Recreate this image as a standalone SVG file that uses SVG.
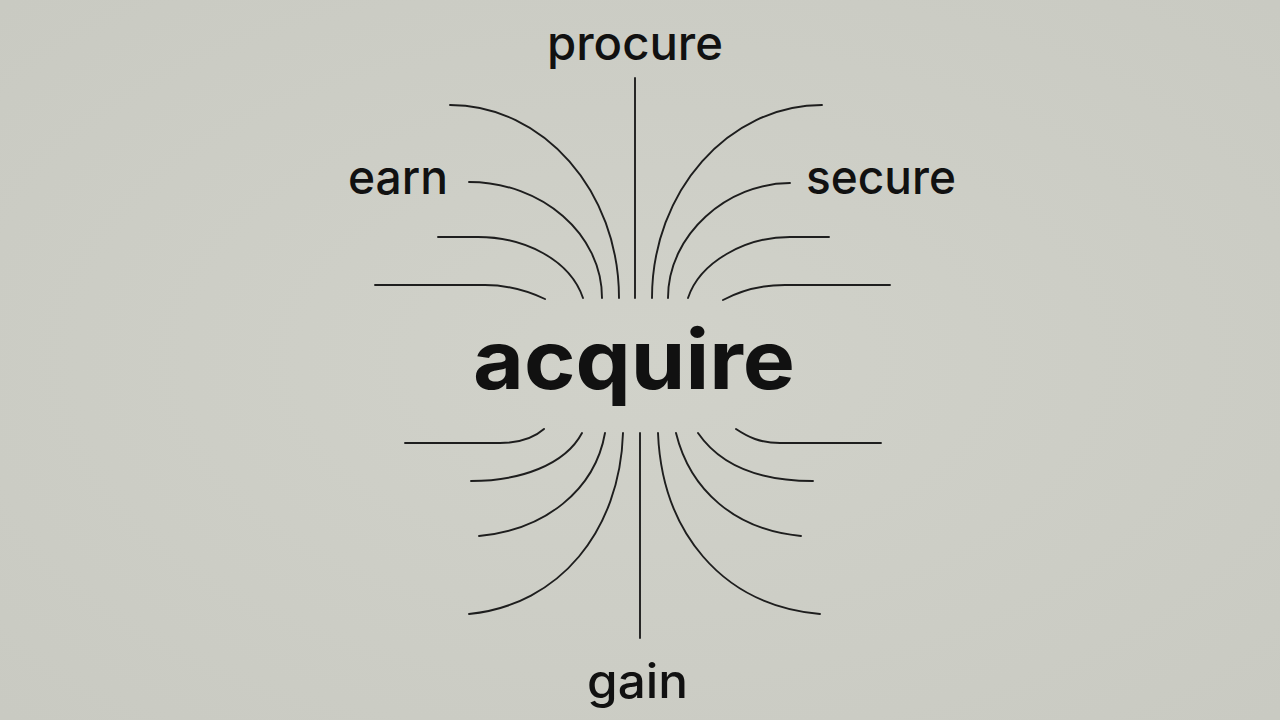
<svg xmlns="http://www.w3.org/2000/svg" width="1280" height="720" viewBox="0 0 1280 720">
<defs>
<radialGradient id="bg" cx="50%" cy="50%" r="70%">
<stop offset="0" stop-color="#d1d2ca"/>
<stop offset="1" stop-color="#c9cac2"/>
</radialGradient>
<style>
.ln{fill:none;stroke:#1e1e1e;stroke-width:1.9;stroke-linecap:round}
.lb{font-family:Inter,"Open Sans","Liberation Sans",sans-serif;font-size:47px;font-weight:500;fill:#111}
.hub{font-family:Inter,"Open Sans","Liberation Sans",sans-serif;font-size:82px;font-weight:700;fill:#111}
</style>
</defs>
<rect width="1280" height="720" fill="url(#bg)"/>
<g id="connectors">
<path class="ln" d="M635,78 L635,298"/>
<path class="ln" d="M450,105 C543,105 619,191 619,298"/>
<path class="ln" d="M469,182 C542,182 602,234 602,298"/>
<path class="ln" d="M438,237 L478,237 C525,237 570,260 583,298"/>
<path class="ln" d="M375,285 L485,285 C510,285 530,292 545,299"/>
<path class="ln" d="M652,298 C652,191 729,105 822,105"/>
<path class="ln" d="M668,298 C668,234 728,183 790,183"/>
<path class="ln" d="M688,298 C700,262 745,237 790,237 L829,237"/>
<path class="ln" d="M723,300 C738,292 758,285 785,285 L890,285"/>
<path class="ln" d="M640,433 L640,638"/>
<path class="ln" d="M405,443 L500,443 C520,443 535,437 544,429"/>
<path class="ln" d="M471,481 C520,481 565,465 582,433"/>
<path class="ln" d="M479,536 C545,530 595,490 605,433"/>
<path class="ln" d="M469,614 C560,605 620,530 623,433"/>
<path class="ln" d="M658,433 C662,530 720,605 820,614"/>
<path class="ln" d="M676,433 C690,490 735,530 801,536"/>
<path class="ln" d="M698,433 C720,465 760,481 813,481"/>
<path class="ln" d="M736,429 C748,437 760,443 780,443 L881,443"/>
</g>
<g id="node-acquire"><text class="hub" x="473" y="389" textLength="322" lengthAdjust="spacingAndGlyphs">acquire</text></g>
<g id="node-procure"><text class="lb" x="547" y="60" textLength="176" lengthAdjust="spacingAndGlyphs">procure</text></g>
<g id="node-earn"><text class="lb" x="348" y="194" textLength="100" lengthAdjust="spacingAndGlyphs">earn</text></g>
<g id="node-secure"><text class="lb" x="806" y="194" textLength="150" lengthAdjust="spacingAndGlyphs">secure</text></g>
<g id="node-gain"><text class="lb" x="587" y="698" textLength="101" lengthAdjust="spacingAndGlyphs">gain</text></g>
</svg>
